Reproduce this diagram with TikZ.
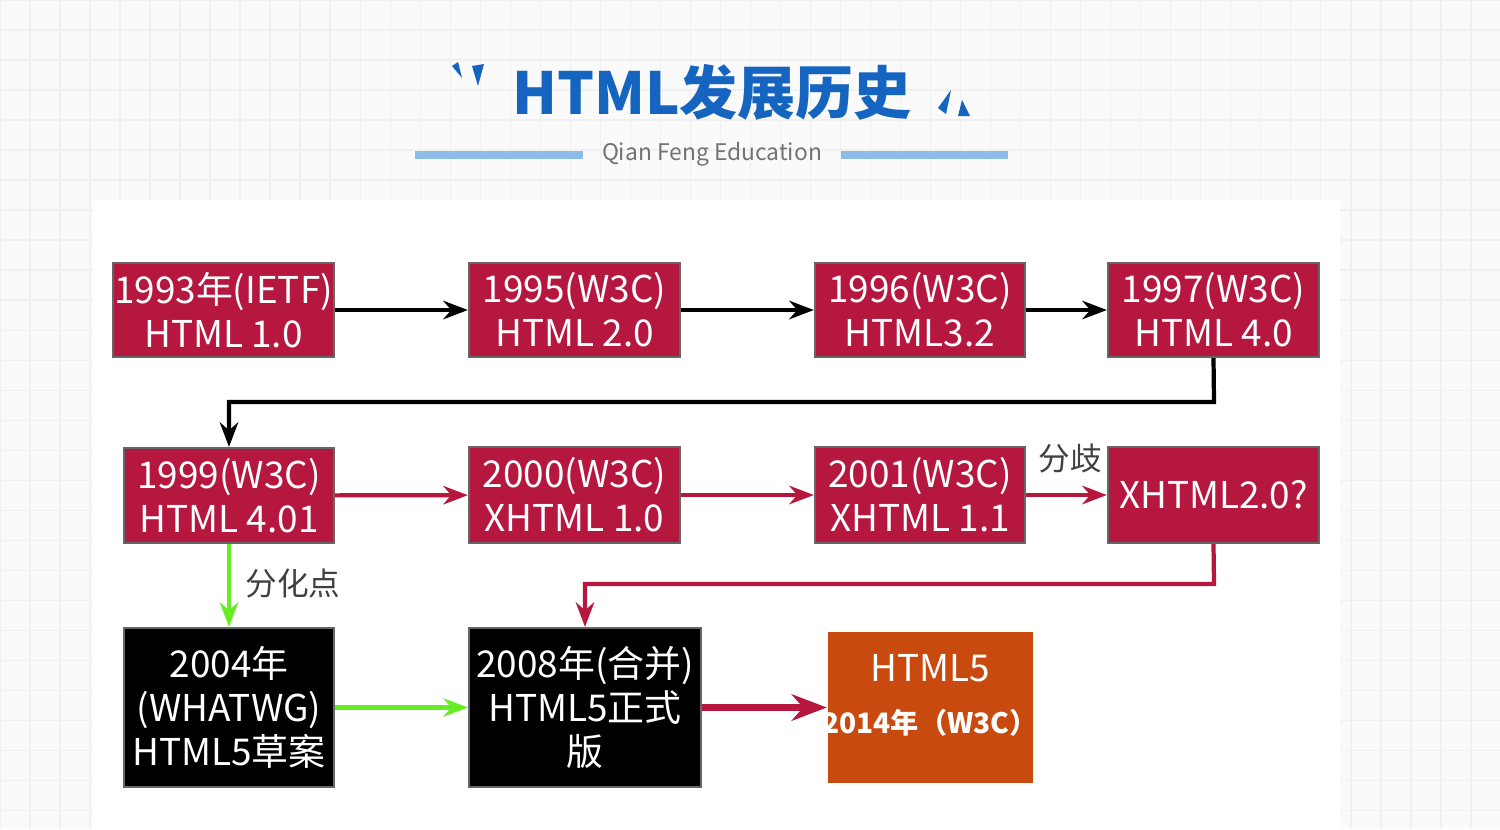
\documentclass[tikz,border=0pt]{standalone}
\usepackage{fontspec}
\setmainfont{Noto Sans CJK SC}
\usetikzlibrary{arrows.meta}
\definecolor{crim}{HTML}{B5173F}
\definecolor{org}{HTML}{C94A0E}
\definecolor{ttl}{HTML}{1565C0}
\definecolor{lbl}{HTML}{8BBDE8}
\definecolor{grn}{HTML}{66EE22}
\begin{document}
\begin{tikzpicture}[x=0.01cm,y=-0.01cm,
  box/.style={draw=black!60,line width=0.6pt,text=white,font=\fontsize{10.5}{12.5}\selectfont,align=center,inner sep=0pt},
  blk/.style={->,>={Stealth[length=7pt]},line width=1.2pt},
  lab/.style={font=\fontsize{9}{10}\selectfont,text=black!75}]
\useasboundingbox (0,0) rectangle (1500,829);
\fill[black!2] (0,0) rectangle (1500,829);
\draw[black!6,step=0.3cm] (0,0) grid (1500,829);
\fill[white] (93,200) rectangle (1340,829);
% title
\node[font=\bfseries\fontsize{16.5}{20}\selectfont,text=ttl] (title) at (712,92) {HTML发展历史};
\fill[ttl] (452,66)--(458,62)--(462,78)--cycle;
\fill[ttl] (472,66)--(484,64)--(478,86)--cycle;
\fill[ttl] (951,90)--(946,114)--(938,108)--cycle;
\fill[ttl] (962,100)--(970,116)--(958,116)--cycle;
\draw[lbl,line width=2.2pt] (415,155)--(583,155) (841,155)--(1008,155);
\node[text=black!55,font=\fontsize{6.5}{8}\selectfont] (sub) at (712,154) {Qian Feng Education};
% row 1
\node[box,fill=crim,minimum width=2.21cm,minimum height=0.94cm] (a1) at (223.5,310) {1993年(IETF)\\HTML 1.0};
\node[box,fill=crim,minimum width=2.11cm,minimum height=0.94cm] (a2) at (574.5,310) {1995(W3C)\\HTML 2.0};
\node[box,fill=crim,minimum width=2.10cm,minimum height=0.94cm] (a3) at (920,310) {1996(W3C)\\HTML3.2};
\node[box,fill=crim,minimum width=2.11cm,minimum height=0.94cm] (a4) at (1213.5,310) {1997(W3C)\\HTML 4.0};
% row 2
\node[box,fill=crim,minimum width=2.10cm,minimum height=0.95cm] (b1) at (229,495.5) {1999(W3C)\\HTML 4.01};
\node[box,fill=crim,minimum width=2.11cm,minimum height=0.96cm] (b2) at (574.5,495) {2000(W3C)\\XHTML 1.0};
\node[box,fill=crim,minimum width=2.10cm,minimum height=0.96cm] (b3) at (920,495) {2001(W3C)\\XHTML 1.1};
\node[box,fill=crim,minimum width=2.11cm,minimum height=0.96cm] (b4) at (1213.5,495) {XHTML2.0?};
% row 3
\node[box,fill=black,minimum width=2.10cm,minimum height=1.59cm] (c1) at (229,707.5) {2004年\\(WHATWG)\\HTML5草案};
\node[box,fill=black,minimum width=2.32cm,minimum height=1.59cm] (c2) at (585,707.5) {2008年(合并)\\HTML5正式\\版};
\node[box,draw=none,fill=org,minimum width=2.05cm,minimum height=1.51cm] (c3) at (930.5,707.5) {};
\node[text=white,font=\fontsize{10.5}{12}\selectfont] (c3a) at (930,668) {HTML5};
\node[text=white,font=\bfseries\fontsize{8}{10}\selectfont] (c3b) at (930,723) {2014年（W3C）};
% arrows
\draw[blk] (a1)--(a2); \draw[blk] (a2)--(a3); \draw[blk] (a3)--(a4);
\draw[blk] (a4.south)--(1214,402)--(229,402)--(b1.north);
\draw[blk,crim] (b1)--(b2); \draw[blk,crim] (b2)--(b3); \draw[blk,crim] (b3)--(b4);
\draw[blk,crim] (b4.south)--(1214,584)--(585,584)--(c2.north);
\draw[blk,grn] (b1.south)--(c1.north);
\draw[blk,grn] (c1)--(c2);
\draw[->,>={Stealth[length=10pt]},line width=2pt,crim] (c2)--(c3);
\node[lab] (l1) at (1070,458) {分歧};
\node[lab] (l2) at (293,583) {分化点};
\end{tikzpicture}
\end{document}
